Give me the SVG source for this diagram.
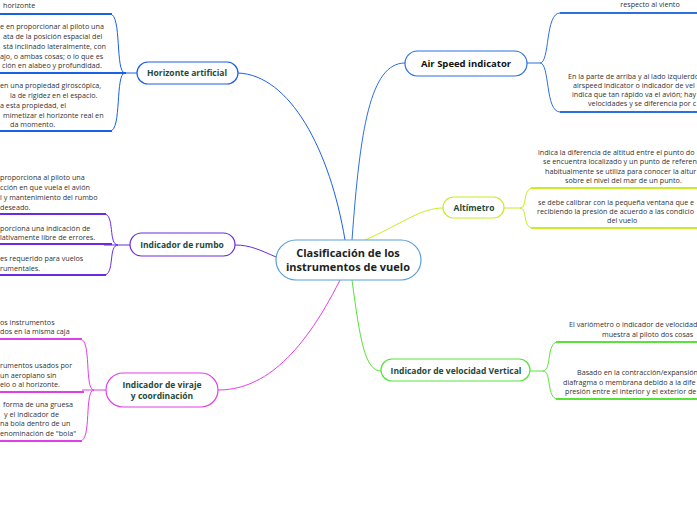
<svg xmlns="http://www.w3.org/2000/svg" width="697" height="520" viewBox="0 0 697 520">
<style>
.t{font-family:"Open Sans","Noto Sans",sans-serif;font-size:7.2px;fill:#333}
.n{font-family:"Open Sans","Noto Sans",sans-serif;font-size:8.5px;font-weight:bold;fill:#1e4a3a;text-anchor:middle}
.c{font-family:"Open Sans","Noto Sans",sans-serif;font-size:11px;font-weight:bold;fill:#222;text-anchor:middle}
.m{text-anchor:middle}
path{fill:none}
.bl{stroke:#1a5fe8}.pu{stroke:#6a2be0}.mg{stroke:#e23ee8}.yg{stroke:#c6ee22}.gr{stroke:#58e23a}.ab{stroke:#2d6fe0}
.th{stroke-width:1}.lf{stroke-width:1.8}
</style>
<rect width="697" height="520" fill="#fff"/>
<g id="connectors">
<path class="bl th" d="M345,240 C330,150 290,75 238,73"/>
<path class="ab th" d="M352,240 C360,130 370,63 405,63"/>
<path class="pu th" d="M276,257 C260,250 250,245 235,245"/>
<path class="yg th" d="M365,240 C400,225 420,208 443,208"/>
<path class="mg th" d="M340,280 C300,360 260,390 218,390"/>
<path class="gr th" d="M352,280 C360,340 365,371 381,371"/>
<path class="bl th" d="M137,73 H125 C115,73 122,14 110,14 M125,73 C115,73 122,131 110,131"/>
<path class="bl lf" d="M0,14 H112 M0,73 H126 M0,131 H112"/>
<path class="pu th" d="M130,245 H118 C108,245 115,214 104,214 M118,245 H104 M118,245 C108,245 115,275 104,275"/>
<path class="pu lf" d="M0,214 H106 M0,244 H112 M0,275 H106"/>
<path class="mg th" d="M106,390 H94 C84,390 92,339 80,339 M94,390 H82 M94,390 C84,390 92,441 80,441"/>
<path class="mg lf" d="M0,339 H82 M0,392 H84 M0,441 H82"/>
<path class="ab th" d="M527,63 H540 C550,63 545,13 560,13 M540,63 C550,63 545,112 560,112"/>
<path class="ab lf" d="M560,13 H697 M560,112 H697"/>
<path class="yg th" d="M504,208 H520 C528,208 522,188 533,188 M520,208 C528,208 522,228 533,228"/>
<path class="yg lf" d="M531,188 H697 M531,228 H697"/>
<path class="gr th" d="M530,371 H543 C552,371 546,342 558,342 M543,371 C552,371 546,399 558,399"/>
<path class="gr lf" d="M556,342 H697 M556,399 H697"/>
</g>
<g id="central"><rect x="276" y="240" width="145" height="40" rx="20" fill="#fff" stroke="#5a9fd4" stroke-width="1.2"/>
<text class="c" x="348" y="257">Clasificación de los</text><text class="c" x="348" y="271">instrumentos de vuelo</text></g>
<g id="horizonte"><rect x="137" y="62" width="101" height="22" rx="11" fill="#fff" stroke="#1a5fe8" stroke-width="1.2"/><text class="n" x="187" y="76">Horizonte artificial</text></g>
<g id="horizonte-leaves">
<text class="t" x="3" y="8">horizonte</text>
<text class="t" x="0" y="29">e en proporcionar al piloto una</text>
<text class="t" x="3" y="39">ata de la posición espacial del</text>
<text class="t" x="3" y="49">stá inclinado lateralmente, con</text>
<text class="t" x="0" y="59">ajo, o ambas cosas; o lo que es</text>
<text class="t" x="2" y="68">ción en alabeo y profundidad.</text>
<text class="t" x="0" y="88">en una propiedad giroscópica,</text>
<text class="t" x="10" y="98">la de rigidez en el espacio.</text>
<text class="t" x="0" y="108">a esta propiedad, el</text>
<text class="t" x="3" y="118">mimetizar el horizonte real en</text>
<text class="t" x="10" y="127">da momento.</text>
</g>
<g id="rumbo"><rect x="130" y="233" width="105" height="23" rx="11.5" fill="#fff" stroke="#6a2be0" stroke-width="1.2"/><text class="n" x="182" y="248">Indicador de rumbo</text></g>
<g id="rumbo-leaves">
<text class="t" x="0" y="180">proporciona al piloto una</text>
<text class="t" x="0" y="190">cción en que vuela el avión</text>
<text class="t" x="0" y="200">l y mantenimiento del rumbo</text>
<text class="t" x="0" y="210">deseado.</text>
<text class="t" x="0" y="231">porciona una indicación de</text>
<text class="t" x="0" y="240">lativamente libre de errores.</text>
<text class="t" x="0" y="261">es requerido para vuelos</text>
<text class="t" x="0" y="271">rumentales.</text>
</g>
<g id="viraje"><rect x="106" y="373" width="112" height="34" rx="17" fill="#fff" stroke="#e23ee8" stroke-width="1.2"/><text class="n" x="162" y="388">Indicador de viraje</text><text class="n" x="162" y="399">y coordinación</text></g>
<g id="viraje-leaves">
<text class="t" x="0" y="325">os instrumentos</text>
<text class="t" x="0" y="334">dos en la misma caja</text>
<text class="t" x="0" y="368">rumentos usados por</text>
<text class="t" x="0" y="378"> un aeroplano sin</text>
<text class="t" x="0" y="387">elo o al horizonte.</text>
<text class="t" x="3" y="407">forma de una gruesa</text>
<text class="t" x="4" y="417">y el indicador de</text>
<text class="t" x="0" y="426">na bola dentro de un</text>
<text class="t" x="0" y="436">enominación de "bola"</text>
</g>
<g id="airspeed"><rect x="405" y="51" width="122" height="25" rx="12.5" fill="#fff" stroke="#2d6fe0" stroke-width="1.2"/><text class="n" x="466" y="67" style="font-size:9.5px;fill:#111">Air Speed indicator</text></g>
<g id="airspeed-leaves">
<text class="t m" x="650" y="7">respecto al viento</text>
<text class="t" x="568" y="79">En la parte de arriba y al lado izquierdo</text>
<text class="t" x="573" y="88">airspeed indicator o indicador de vel</text>
<text class="t" x="572" y="97">indica que tan rápido va el avión; hay</text>
<text class="t" x="588" y="106">velocidades y se diferencia por c</text>
</g>
<g id="altimetro"><rect x="443" y="197" width="61" height="21" rx="10.5" fill="#fff" stroke="#c6ee22" stroke-width="1.2"/><text class="n" x="474" y="211">Altímetro</text></g>
<g id="altimetro-leaves">
<text class="t" x="538" y="155">indica la diferencia de altitud entre el punto do</text>
<text class="t" x="543" y="164">se encuentra localizado y un punto de referenc</text>
<text class="t" x="545" y="174">habitualmente se utiliza para conocer la altur</text>
<text class="t" x="565" y="183">sobre el nivel del mar de un punto.</text>
<text class="t" x="538" y="205">se debe calibrar con la pequeña ventana que e</text>
<text class="t" x="537" y="214">recibiendo la presión de acuerdo a las condicio</text>
<text class="t" x="607" y="223">del vuelo</text>
</g>
<g id="vertical"><rect x="381" y="359" width="149" height="22" rx="11" fill="#fff" stroke="#58e23a" stroke-width="1.2"/><text class="n" x="456" y="374">Indicador de velocidad Vertical</text></g>
<g id="vertical-leaves">
<text class="t" x="569" y="327">El variómetro o indicador de velocidad</text>
<text class="t" x="602" y="337">muestra al piloto dos cosas</text>
<text class="t" x="577" y="375">Basado en la contracción/expansión</text>
<text class="t" x="563" y="385">diafragma o membrana debido a la dife</text>
<text class="t" x="565" y="394">presión entre el interior y el exterior de</text>
</g>
</svg>
